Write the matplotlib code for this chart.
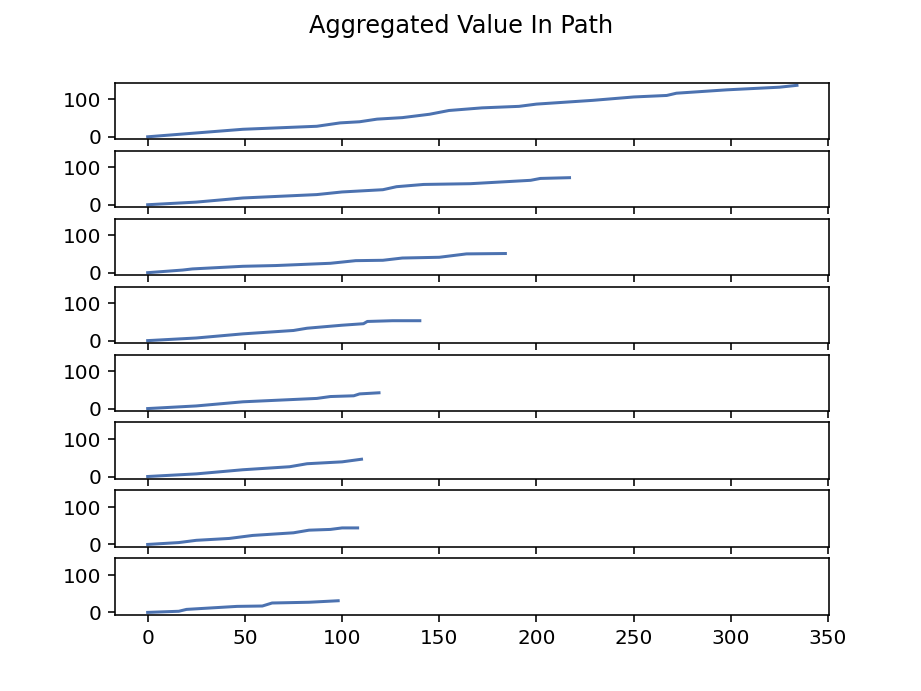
import matplotlib
matplotlib.use('Agg')
import matplotlib.pyplot as plt

# (x, value) breakpoints
path1_x = [0, 49, 87, 99, 109, 118, 131, 145, 155, 172, 191, 200, 229, 250, 267, 272, 298, 325, 334]
path1_y = [0, 20, 28, 37, 40, 47, 51, 60, 70, 77, 81, 87, 97, 106, 110, 116, 125, 132, 137]

path2_x = [0, 25, 49, 87, 100, 121, 128, 142, 166, 197, 202, 217]
path2_y = [0, 7, 18, 27, 34, 40, 48, 54, 56, 65, 70, 72]

path3_x = [0, 18, 23, 49, 66, 94, 107, 121, 131, 150, 164, 184]
path3_y = [0, 7, 10, 17, 19, 25, 32, 33, 39, 41, 50, 51]

path4_x = [0, 25, 49, 75, 82, 100, 111, 113, 126, 140]
path4_y = [0, 7, 18, 27, 33, 41, 45, 51, 53, 53]

path5_x = [0, 25, 49, 87, 94, 106, 109, 119]
path5_y = [0, 7, 18, 27, 32, 34, 39, 42]

path6_x = [0, 25, 49, 73, 82, 100, 110]
path6_y = [0, 7, 18, 26, 34, 39, 46]

path7_x = [0, 16, 25, 42, 54, 75, 83, 94, 100, 108]
path7_y = [0, 5, 11, 16, 24, 31, 38, 40, 44, 44]

path8_x = [0, 16, 20, 46, 59, 64, 83, 98]
path8_y = [0, 3, 8, 16, 17, 25, 27, 31]

paths = [(path1_x, path1_y), (path2_x, path2_y), (path3_x, path3_y),
         (path4_x, path4_y), (path5_x, path5_y), (path6_x, path6_y),
         (path7_x, path7_y), (path8_x, path8_y)]

fig, axes = plt.subplots(len(paths), 1, sharex=True, sharey=True,
                         figsize=(6.4, 4.8), dpi=144)
fig.suptitle('Aggregated Value In Path')

for ax, (xs, ys) in zip(axes, paths):
    ax.plot(xs, ys, color='#4c72b0', linewidth=1.5)

axes[-1].set_xticks([0, 50, 100, 150, 200, 250, 300, 350])
axes[0].set_yticks([0, 100])

fig.savefig('out.png', dpi=144)
